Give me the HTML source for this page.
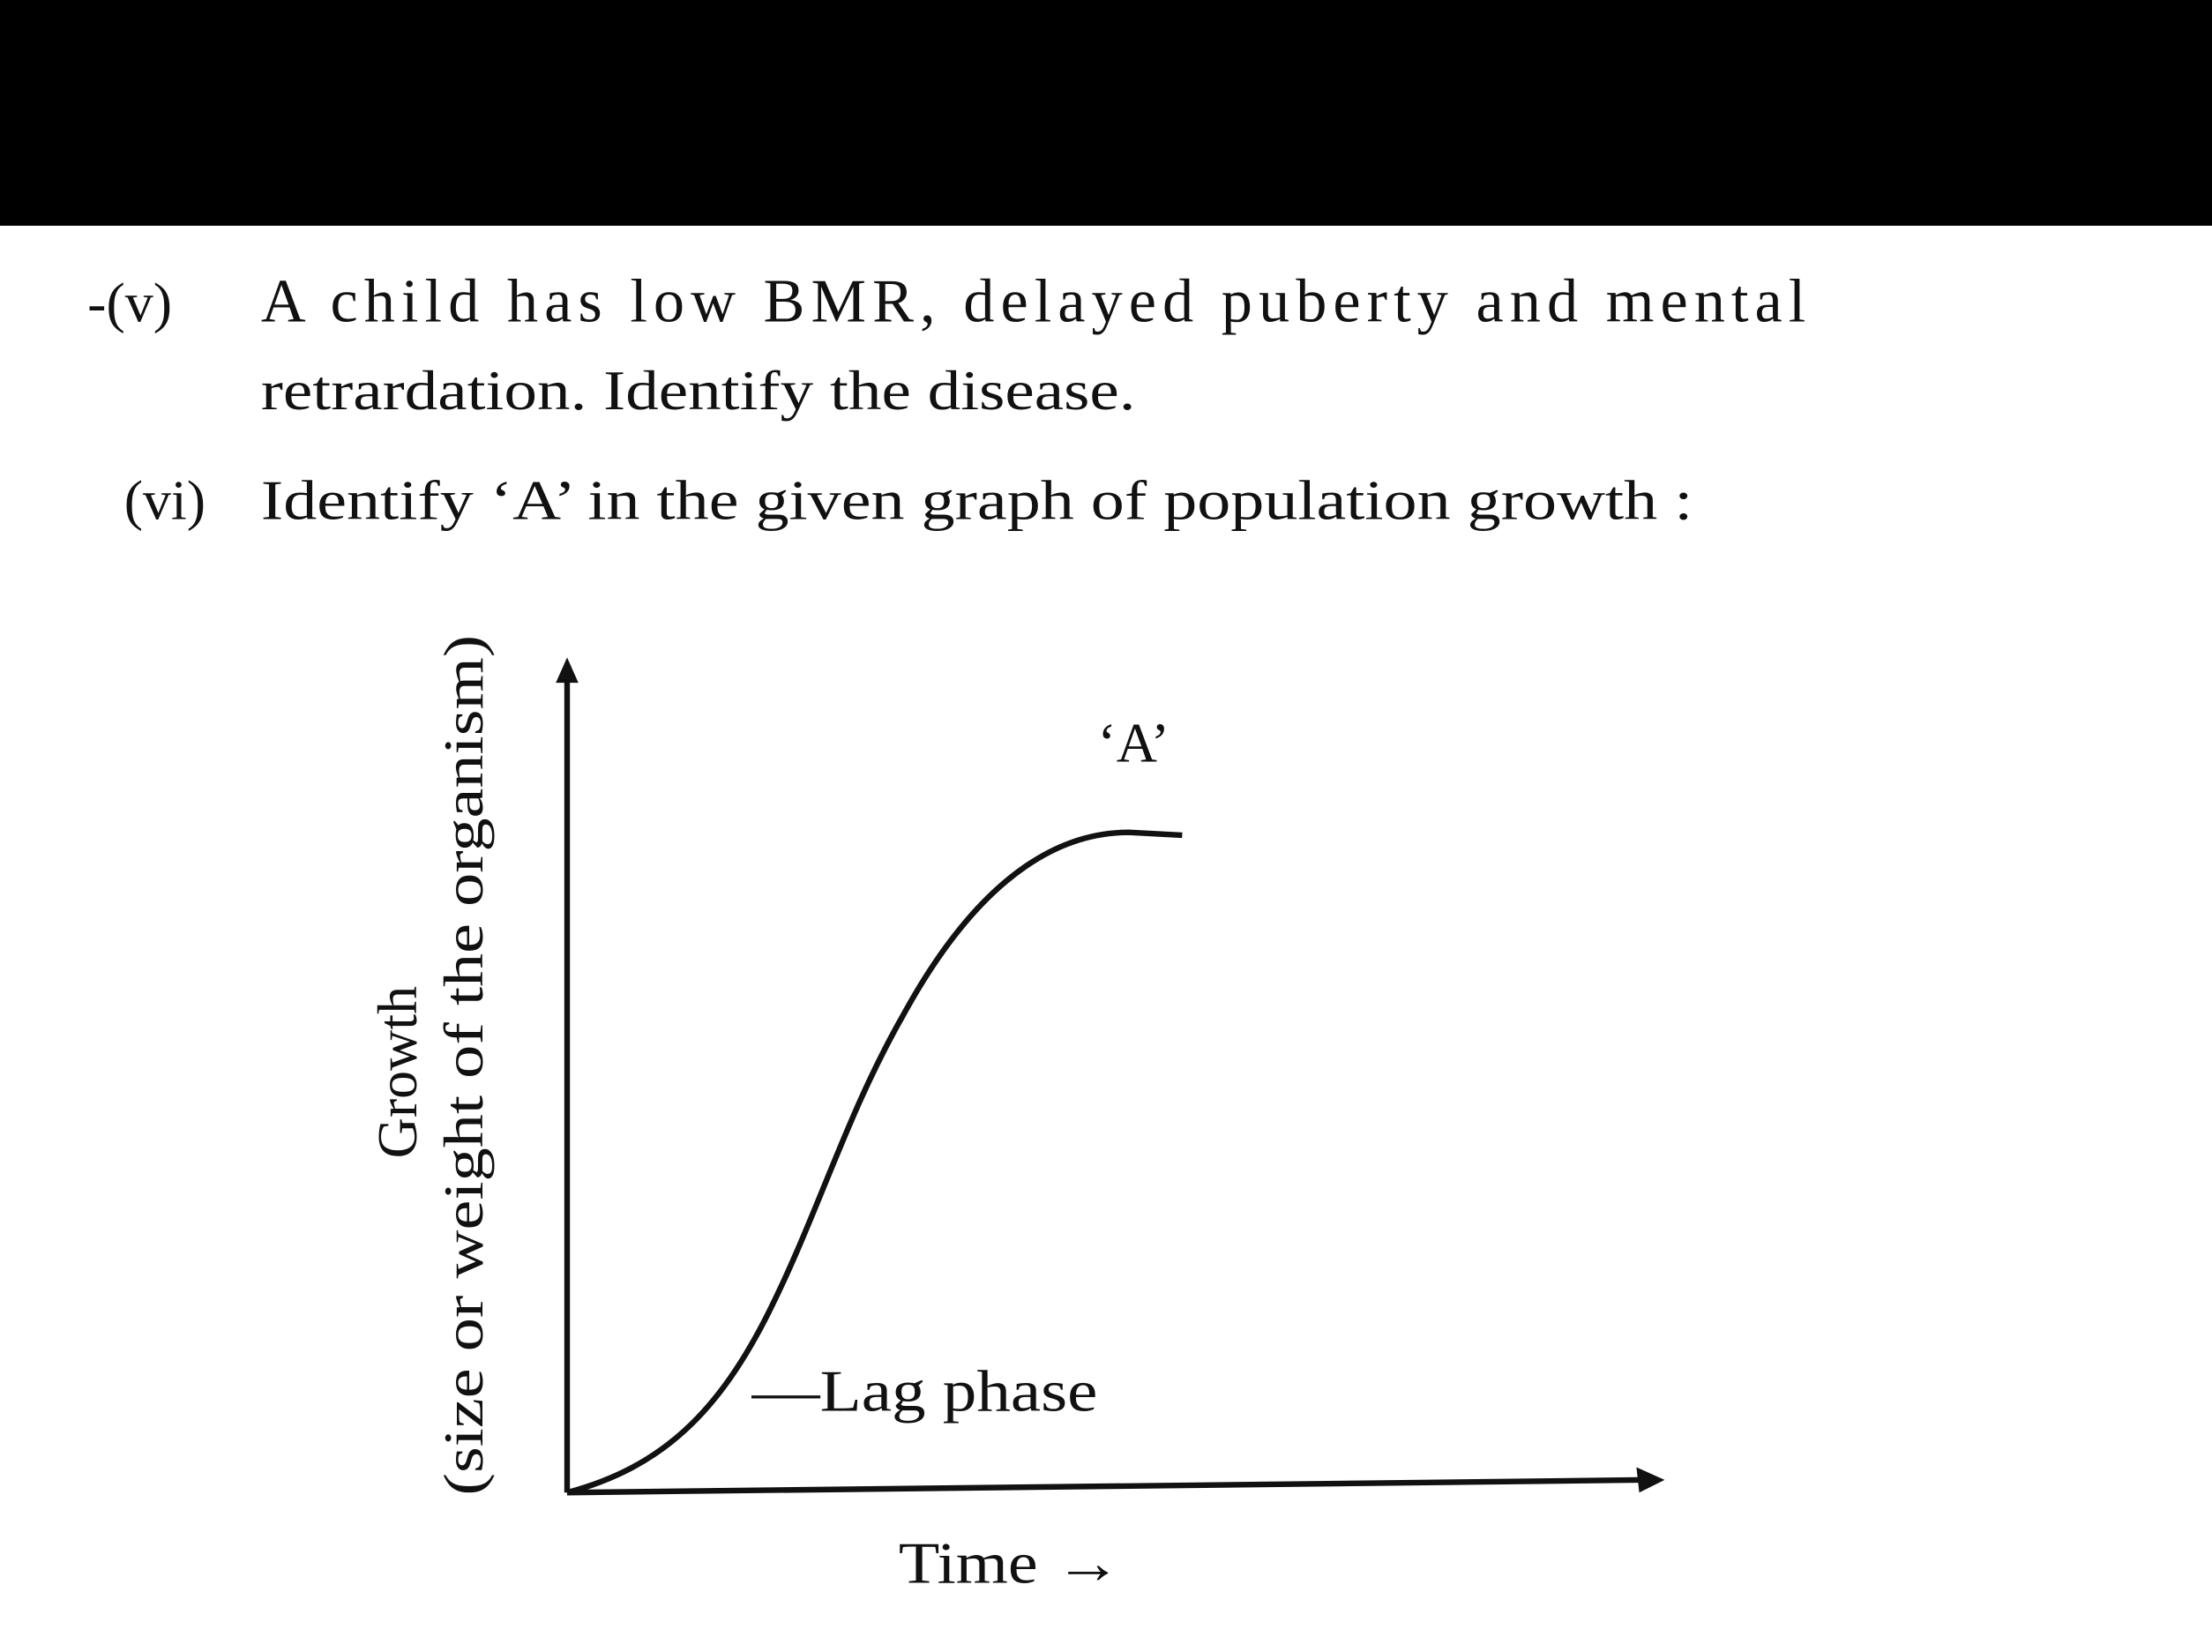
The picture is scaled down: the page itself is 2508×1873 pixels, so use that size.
<!DOCTYPE html>
<html><head><meta charset="utf-8"><style>
html,body{margin:0;padding:0;background:#fff;}
svg{display:block;}
text{font-family:"Liberation Serif",serif;fill:#111;}
</style></head><body>
<svg width="2508" height="1873" viewBox="0 0 1568 1171" preserveAspectRatio="none" xmlns="http://www.w3.org/2000/svg">
<rect x="0" y="0" width="1568" height="1171" fill="#fff"/>
<rect x="0" y="0" width="1568" height="160" fill="#000"/>
<text x="62" y="228" font-size="40">-(v)</text>
<text x="185" y="228" font-size="44" textLength="1095" lengthAdjust="spacing">A child has low BMR, delayed puberty and mental</text>
<text x="185" y="290" font-size="40" textLength="620" lengthAdjust="spacingAndGlyphs">retrardation. Identify the disease.</text>
<text x="88" y="368" font-size="40">(vi)</text>
<text x="185" y="368" font-size="40" textLength="1015" lengthAdjust="spacingAndGlyphs">Identify ‘A’ in the given graph of population growth :</text>
<g stroke="#111" stroke-width="4" fill="none">
<line x1="402" y1="1058" x2="402" y2="478"/>
<line x1="402" y1="1058" x2="1168" y2="1049"/>
<path d="M402 1058 C470 1040 510 1000 545 930 C580 860 600 790 640 720 C700 610 760 590 800 590 L838 592"/>
</g>
<path d="M402 466 L394 484 L410 484 Z" fill="#111"/>
<path d="M1180 1049 L1160 1040 L1162 1058 Z" fill="#111"/>
<text x="778" y="540" font-size="40">‘A’</text>
<text x="533" y="1000" font-size="42" textLength="245" lengthAdjust="spacingAndGlyphs">—Lag phase</text>
<text x="637" y="1122" font-size="42" textLength="158" lengthAdjust="spacingAndGlyphs">Time →</text>
<text transform="translate(295,760) rotate(-90)" font-size="40" text-anchor="middle">Growth</text>
<text transform="translate(342,755) rotate(-90)" font-size="40" text-anchor="middle" textLength="610" lengthAdjust="spacingAndGlyphs">(size or weight of the organism)</text>
</svg>
</body></html>
